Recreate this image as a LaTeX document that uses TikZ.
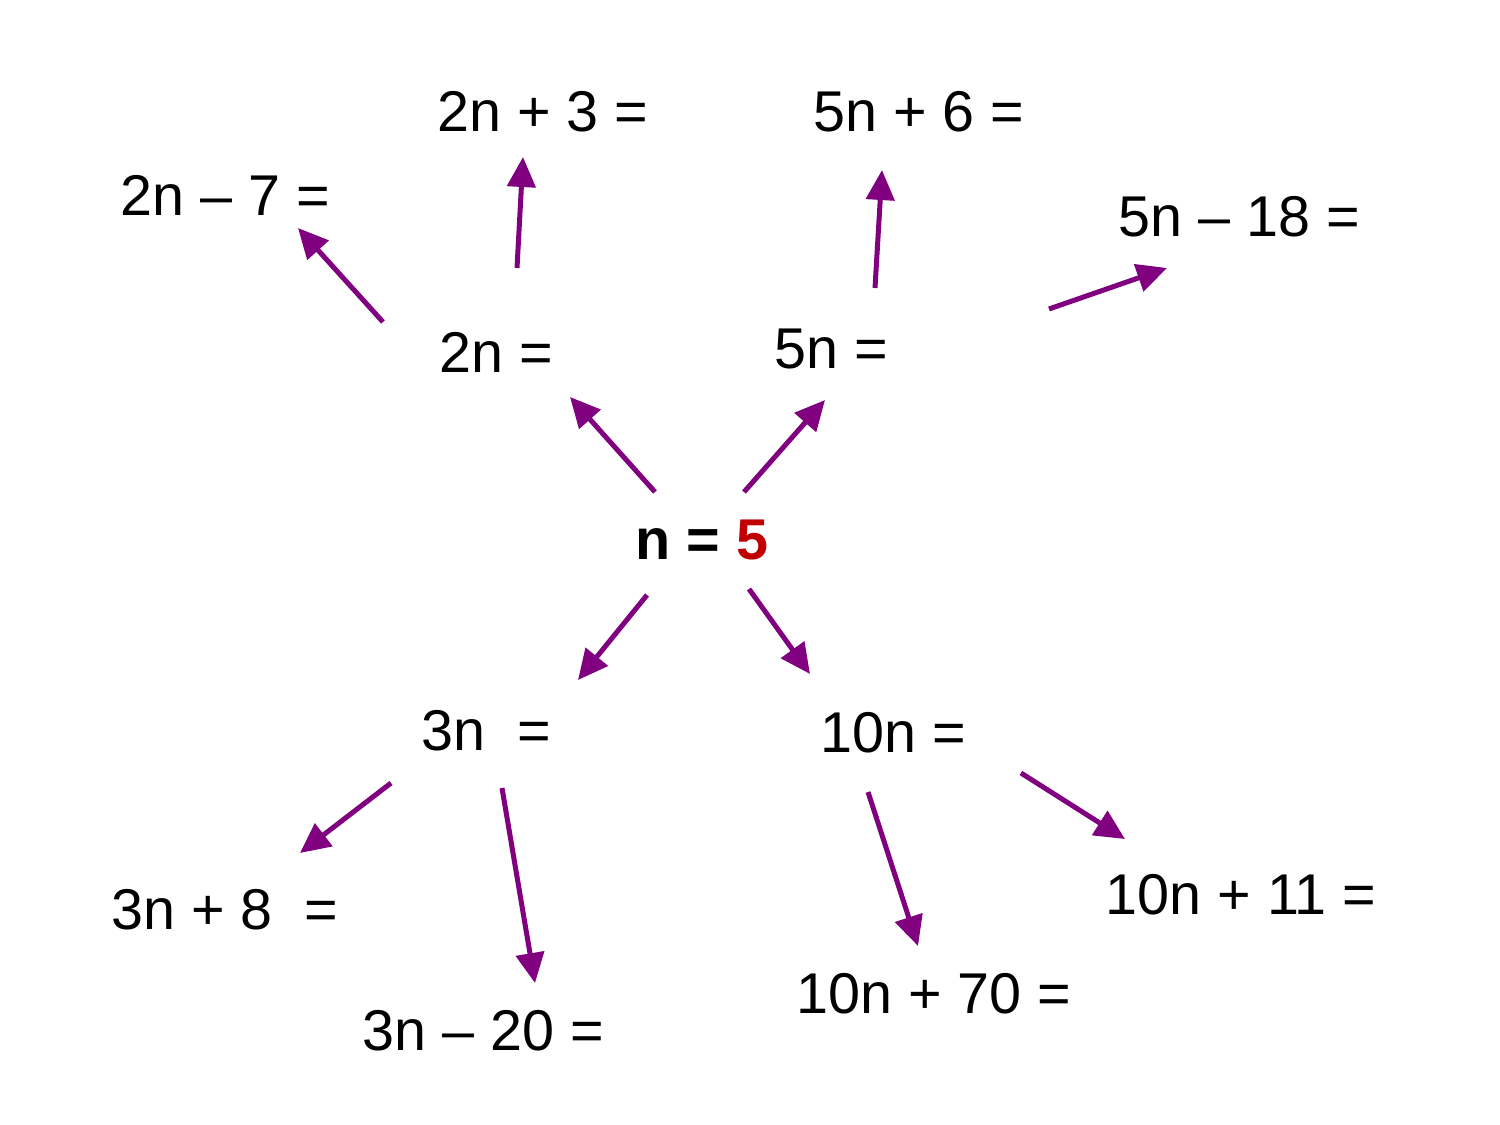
\documentclass[tikz,border=0pt]{standalone}
\usepackage{fontspec}
\setmainfont{Liberation Sans}
\usetikzlibrary{arrows.meta}
\definecolor{arrowpurple}{HTML}{800080}
\definecolor{fivered}{HTML}{C00000}
\tikzset{
  expr/.style={anchor=base, inner sep=0pt, font=\fontsize{57.5}{60}\selectfont},
  link/.style={draw=arrowpurple, line width=5pt, -{Triangle[length=30pt,width=28pt]}}
}
\begin{document}
\begin{tikzpicture}[x=1pt,y=-1pt]
\useasboundingbox[fill=white] (0,0) rectangle (1500,1125);
% texts
\node[expr] (c) at (702,559) {\bfseries n = \textcolor{fivered}{5}};
\node[expr] (t2) at (496,372) {2n =};
\node[expr] (t5) at (831,368) {5n =};
\node[expr] (t3) at (486,750) {3n\ \ =};
\node[expr] (t10) at (893,752) {10n =};
\node[expr] (a) at (543,131) {2n + 3 =};
\node[expr] (b) at (919,131) {5n + 6 =};
\node[expr] (d) at (225,215) {2n -- 7 =};
\node[expr] (e) at (1239,236) {5n -- 18 =};
\node[expr] (f) at (225,929) {3n + 8\ \ =};
\node[expr] (g) at (483,1050) {3n -- 20 =};
\node[expr] (h) at (934,1013) {10n + 70 =};
\node[expr] (k) at (1241,914) {10n + 11 =};
% arrow ends
\coordinate (s1) at (383,322); \coordinate (e1) at (298,228);
\coordinate (s2) at (517,268); \coordinate (e2) at (523,157);
\coordinate (s3) at (655,492); \coordinate (e3) at (570,397);
\coordinate (s4) at (744,492); \coordinate (e4) at (825,400);
\coordinate (s5) at (875,288); \coordinate (e5) at (882,170);
\coordinate (s6) at (1049,309); \coordinate (e6) at (1167,268);
\coordinate (s7) at (647,595); \coordinate (e7) at (578,680);
\coordinate (s8) at (749,589); \coordinate (e8) at (810,674);
\coordinate (s9) at (391,783); \coordinate (e9) at (300,853);
\coordinate (s10) at (502,788); \coordinate (e10) at (535,983);
\coordinate (s11) at (868,792); \coordinate (e11) at (918,946);
\coordinate (s12) at (1021,773); \coordinate (e12) at (1125,839);
\foreach \i in {1,...,12} \draw[link] (s\i) -- (e\i);
\end{tikzpicture}
\end{document}
